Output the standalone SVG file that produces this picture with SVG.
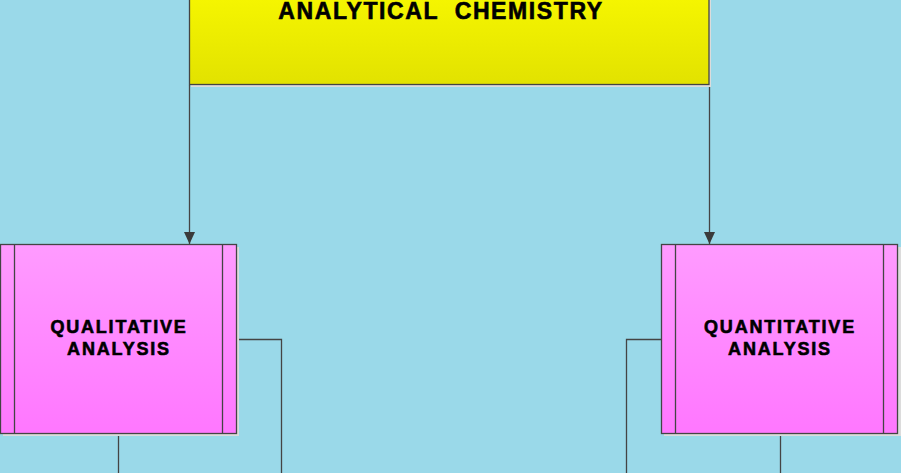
<svg xmlns="http://www.w3.org/2000/svg" width="901" height="473" viewBox="0 0 901 473">
<defs>
<linearGradient id="gy" x1="0" y1="0" x2="0" y2="1"><stop offset="0" stop-color="#f6f600"/><stop offset="1" stop-color="#e2e200"/></linearGradient>
<linearGradient id="gp" x1="0" y1="0" x2="0" y2="1"><stop offset="0" stop-color="#ff9bff"/><stop offset="1" stop-color="#ff77ff"/></linearGradient>
<marker id="ar" markerWidth="12" markerHeight="12" refX="12" refY="5.5" orient="auto" markerUnits="userSpaceOnUse"><path d="M0,0 L12,5.5 L0,11 Z" fill="#3a3a3a"/></marker>
<style>
.box{stroke:#444;stroke-width:1.3}
.shadow{fill:#dcdcdc}
.ln{stroke:#444;stroke-width:1.3;fill:none}
.t{font-family:"Liberation Sans",Arial,sans-serif;font-weight:bold;fill:#000;stroke:#000;stroke-width:0.6;text-anchor:middle;white-space:pre}
</style>
</defs>
<rect width="901" height="473" fill="#9ad9e9"/>
<g id="connectors">
<line class="ln" x1="189.5" y1="85" x2="189.5" y2="244" marker-end="url(#ar)"/>
<line class="ln" x1="709.5" y1="85" x2="709.5" y2="244" marker-end="url(#ar)"/>
<polyline class="ln" points="236,339.5 281.5,339.5 281.5,473"/>
<line class="ln" x1="118.5" y1="433" x2="118.5" y2="473"/>
<polyline class="ln" points="662,339.5 626.5,339.5 626.5,473"/>
<line class="ln" x1="780.5" y1="433" x2="780.5" y2="473"/>
</g>
<g id="analytical-chemistry">
<rect class="shadow" x="191" y="-5" width="520" height="92"/>
<rect class="box" x="189.5" y="-5" width="519.5" height="89.5" fill="url(#gy)"/>
<text class="t" x="441" y="18.5" font-size="23" letter-spacing="1.6" xml:space="preserve">ANALYTICAL  CHEMISTRY</text>
</g>
<g id="qualitative">
<rect class="shadow" x="3" y="247" width="236" height="189"/>
<rect class="box" x="0.5" y="244.5" width="236" height="189" fill="url(#gp)"/>
<line class="box" x1="14.5" y1="244.5" x2="14.5" y2="433.5"/>
<line class="box" x1="222.5" y1="244.5" x2="222.5" y2="433.5"/>
<text class="t" font-size="18" letter-spacing="1.8"><tspan x="119" y="333">QUALITATIVE</tspan><tspan x="119" y="355">ANALYSIS</tspan></text>
</g>
<g id="quantitative">
<rect class="shadow" x="664" y="247" width="237" height="189"/>
<rect class="box" x="661.5" y="244.5" width="236" height="189" fill="url(#gp)"/>
<line class="box" x1="675.5" y1="244.5" x2="675.5" y2="433.5"/>
<line class="box" x1="883.5" y1="244.5" x2="883.5" y2="433.5"/>
<text class="t" font-size="18" letter-spacing="1.8"><tspan x="780" y="333">QUANTITATIVE</tspan><tspan x="780" y="355">ANALYSIS</tspan></text>
</g>
</svg>
